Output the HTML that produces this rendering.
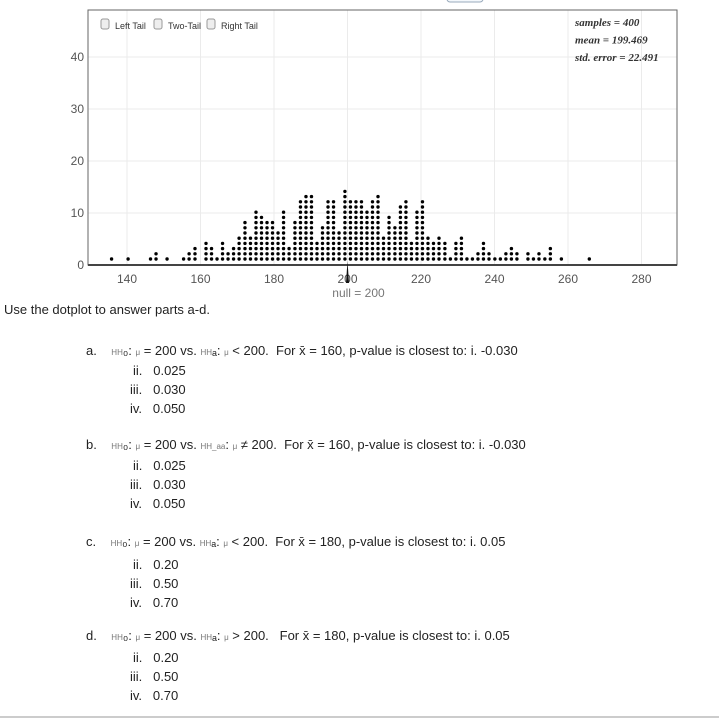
<!DOCTYPE html>
<html><head><meta charset="utf-8">
<style>
body{margin:0;width:719px;height:718px;background:#fff;position:relative;overflow:hidden;font-family:"Liberation Sans",sans-serif;}
.t{position:absolute;font-size:13px;color:#222;white-space:nowrap;line-height:16px;}
.s{font-size:8px;color:#777;}
svg{position:absolute;left:0;top:0;}
</style></head><body>
<svg id="chart" width="719" height="305"></svg>
<div class="t" style="left:4px;top:302px">Use the dotplot to answer parts a-d.</div>

<div class="t" style="left:86px;top:343px">a.&nbsp;&nbsp;&nbsp; <span class="s">HH</span>₀: <span class="s">μ</span> = 200 vs. <span class="s">HH</span>ₐ: <span class="s">μ</span> &lt; 200.&nbsp; For x̄ = 160, p-value is closest to: i. -0.030</div>
<div class="t" style="left:133px;top:363px">ii.&nbsp;&nbsp; 0.025</div>
<div class="t" style="left:130px;top:382px">iii.&nbsp;&nbsp; 0.030</div>
<div class="t" style="left:130px;top:401px">iv.&nbsp;&nbsp; 0.050</div>

<div class="t" style="left:86px;top:437px">b.&nbsp;&nbsp;&nbsp; <span class="s">HH</span>₀: <span class="s">μ</span> = 200 vs. <span class="s">HH_aa</span>: <span class="s">μ</span> ≠ 200.&nbsp; For x̄ = 160, p-value is closest to: i. -0.030</div>
<div class="t" style="left:133px;top:458px">ii.&nbsp;&nbsp; 0.025</div>
<div class="t" style="left:130px;top:477px">iii.&nbsp;&nbsp; 0.030</div>
<div class="t" style="left:130px;top:496px">iv.&nbsp;&nbsp; 0.050</div>

<div class="t" style="left:86px;top:534px">c.&nbsp;&nbsp;&nbsp; <span class="s">HH</span>₀: <span class="s">μ</span> = 200 vs. <span class="s">HH</span>ₐ: <span class="s">μ</span> &lt; 200.&nbsp; For x̄ = 180, p-value is closest to: i. 0.05</div>
<div class="t" style="left:133px;top:557px">ii.&nbsp;&nbsp; 0.20</div>
<div class="t" style="left:130px;top:576px">iii.&nbsp;&nbsp; 0.50</div>
<div class="t" style="left:130px;top:595px">iv.&nbsp;&nbsp; 0.70</div>

<div class="t" style="left:86px;top:628px">d.&nbsp;&nbsp;&nbsp; <span class="s">HH</span>₀: <span class="s">μ</span> = 200 vs. <span class="s">HH</span>ₐ: <span class="s">μ</span> &gt; 200.&nbsp;&nbsp; For x̄ = 180, p-value is closest to: i. 0.05</div>
<div class="t" style="left:133px;top:650px">ii.&nbsp;&nbsp; 0.20</div>
<div class="t" style="left:130px;top:669px">iii.&nbsp;&nbsp; 0.50</div>
<div class="t" style="left:130px;top:688px">iv.&nbsp;&nbsp; 0.70</div>
<div style="position:absolute;left:0;top:716px;width:719px;height:2px;background:#ccc"></div>

<script>
const binValues=[135.8,137.3,138.8,140.3,141.8,143.3,144.9,146.4,147.9,149.4,150.9,152.4,153.9,155.4,156.9,158.5,160.0,161.5,163.0,164.5,166.0,167.5,169.0,170.5,172.1,173.6,175.1,176.6,178.1,179.6,181.1,182.6,184.1,185.7,187.2,188.7,190.2,191.7,193.2,194.7,196.2,197.7,199.3,200.8,202.3,203.8,205.3,206.8,208.3,209.8,211.3,212.9,214.4,215.9,217.4,218.9,220.4,221.9,223.4,224.9,226.5,228.0,229.5,231.0,232.5,234.0,235.5,237.0,238.5,240.1,241.6,243.1,244.6,246.1,247.6,249.1,250.6,252.1,253.7,255.2,256.7,258.2,259.7,261.2,262.7,264.2,265.8];
const binCounts=[1,0,0,1,0,0,0,1,2,0,1,0,0,1,2,3,0,4,3,1,4,2,3,5,8,5,10,9,8,8,6,10,3,8,12,13,13,4,7,12,12,6,14,12,12,12,10,12,13,5,9,7,11,12,4,10,12,5,4,5,4,1,4,5,1,1,2,4,2,1,1,2,3,2,0,2,1,2,1,3,0,1,0,0,0,0,1];
const xTicks=[140,160,180,200,220,240,260,280];
const yTicks=[0,10,20,30,40];
const stats=["samples = 400","mean = 199.469","std. error = 22.491"];
const nullValue=200;

const NS="http://www.w3.org/2000/svg";
const svg=document.getElementById('chart');
const L=88,R=677,T=10,B=265;
const xs=v=>127+(v-140)*3.675;
const ys=v=>B-v*5.2;
function mk(tag,attrs,parent){const e=document.createElementNS(NS,tag);for(const k in attrs)e.setAttribute(k,attrs[k]);(parent||svg).appendChild(e);return e;}

for(const t of xTicks){
  const g=mk('line',{x1:xs(t),x2:xs(t),y1:T,y2:B,stroke:'#ebebeb'});
  
  
  const tx=mk('text',{x:xs(t),y:283,'text-anchor':'middle','font-size':12,fill:'#555','font-family':'Liberation Sans, sans-serif'});
  tx.textContent=t;
  
  
}
for(const t of yTicks){
  const g=mk('line',{x1:L,x2:R,y1:ys(t),y2:ys(t),stroke:'#ebebeb'});
  
  
  const tx=mk('text',{x:84,y:ys(t)+4,'text-anchor':'end','font-size':12,fill:'#555','font-family':'Liberation Sans, sans-serif'});
  tx.textContent=t;
  
  
}
const fr=mk('rect',{x:L,y:T,width:R-L,height:B-T,fill:'none',stroke:'#666','stroke-width':1});


const ax=mk('line',{x1:L,x2:R,y1:B,y2:B,stroke:'#444','stroke-width':2});



binValues.forEach((v,i)=>{
  for(let k=0;k<binCounts[i];k++){
    const c=mk('circle',{cx:xs(v),cy:ys(k)-6,r:1.7,fill:'#000'});
    
    
  }
});

const nm=mk('path',{d:`M${xs(nullValue)-1.5} ${B+18}L${xs(nullValue)} ${B-4}L${xs(nullValue)+1.5} ${B+18}Z`,fill:'#111'});


const nt=mk('text',{x:xs(nullValue)+11,y:297,'text-anchor':'middle','font-size':12,fill:'#777','font-family':'Liberation Sans, sans-serif'});
nt.textContent='null = '+nullValue;



stats.forEach((s,i)=>{
  const t=mk('text',{x:575,y:26+i*17.5,'font-size':11,'font-style':'italic','font-weight':'bold',fill:'#333','font-family':'Liberation Serif, serif'});
  t.textContent=s;
  
  
});

const cbs=[["Left Tail",101,115],["Two-Tail",154,168],["Right Tail",207,221]];
cbs.forEach(c=>{
  const b=mk('rect',{x:c[1],y:19,width:8,height:10,rx:2,fill:'#eee',stroke:'#999'});
  
  
  const t=mk('text',{x:c[2],y:29,'font-size':9,fill:'#333','font-family':'Liberation Sans, sans-serif'});
  t.textContent=c[0];
  
  
});
const tb=mk('rect',{x:447,y:-6,width:36,height:8,rx:3,fill:'#f4f8fc',stroke:'#9ab'});


</script>
</body></html>
